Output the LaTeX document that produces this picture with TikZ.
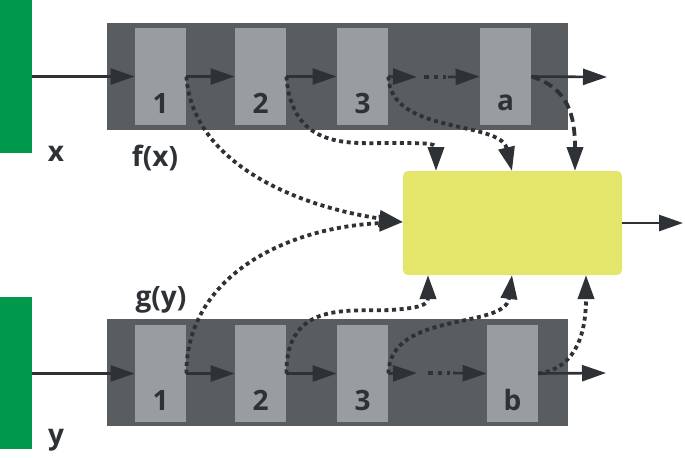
\documentclass[tikz,border=0pt]{standalone}
\usepackage{fontspec}
\setmainfont{Open Sans}
\usetikzlibrary{arrows.meta}
\definecolor{darkbox}{HTML}{5A5D60}
\definecolor{cellgray}{HTML}{9A9D9F}
\definecolor{greenbar}{HTML}{00994C}
\definecolor{yel}{HTML}{E3E66B}
\definecolor{ink}{HTML}{2E3135}
\begin{document}
\begin{tikzpicture}[x=0.5pt,y=-0.5pt,
  tip/.tip={Triangle[length=12pt,width=8pt]},
  boxbg/.style={fill=darkbox,draw=none,minimum width=230.5pt,minimum height=53.5pt,inner sep=0pt},
  cellbox/.style={fill=cellgray,draw=none,minimum width=25.5pt,minimum height=48.5pt,inner sep=0pt},
  barbox/.style={fill=greenbar,draw=none,minimum width=16pt,inner sep=0pt},
  yelbox/.style={fill=yel,draw=none,rounded corners=2.5pt,minimum width=109.5pt,minimum height=52pt,inner sep=0pt},
  lbl/.style={font=\bfseries\fontsize{14}{16}\selectfont,text=ink,inner sep=0pt},
  flow/.style={draw=ink,line width=1.3pt,-tip},
  dots/.style={draw=ink,line width=1.9pt,dash pattern=on 2pt off 1.8pt,-tip},
  dashes/.style={draw=ink,line width=1.9pt,dash pattern=on 4.5pt off 2.5pt,-tip},
  dotrow/.style={draw=ink,line width=2.4pt,dash pattern=on 2.4pt off 2.4pt}
]
\useasboundingbox (0,0) rectangle (685,457);
% green bars
\node[barbox,minimum height=76.5pt] (gx) at (16,76.5) {};
\node[barbox,minimum height=76pt] (gy) at (16,372.5) {};
% dark boxes
\node[boxbg] (fbox) at (337.5,76.5) {};
\node[boxbg] (gbox) at (337.5,372.5) {};
% top cells
\node[cellbox] (f1) at (160.5,76.5) {};
\node[cellbox] (f2) at (260.5,76.5) {};
\node[cellbox] (f3) at (362.5,76.5) {};
\node[cellbox] (fa) at (505.5,76.5) {};
% bottom cells
\node[cellbox] (g1) at (160.5,373.5) {};
\node[cellbox] (g2) at (260.5,373.5) {};
\node[cellbox] (g3) at (362.5,373.5) {};
\node[cellbox] (gb) at (512.5,373.5) {};
% cell labels
\node[lbl] (lf1) at (160.5,103) {1};
\node[lbl] (lf2) at (260.5,103) {2};
\node[lbl] (lf3) at (362.5,103) {3};
\node[lbl] (lfa) at (505.5,103) {a};
\node[lbl] (lg1) at (160.5,400) {1};
\node[lbl] (lg2) at (260.5,400) {2};
\node[lbl] (lg3) at (362.5,400) {3};
\node[lbl] (lgb) at (512.5,400) {b};
% side labels
\node[lbl] (lx) at (56,154) {x};
\node[lbl] (lfx) at (155,158) {f(x)};
\node[lbl] (ly) at (56,440) {y};
\node[lbl] (lgy) at (161,300) {g(y)};
% yellow box
\node[yelbox] (yb) at (512.5,223) {};
% coordinates
\coordinate (fo) at (607,77);
\coordinate (go) at (606,373);
\coordinate (yo) at (683,223);
\coordinate (fd) at (417,77);
\coordinate (fe) at (448,77);
\coordinate (gd) at (417,373);
\coordinate (ge) at (453,373);
\coordinate (yl) at (403,222);
\coordinate (yt1) at (436,171);
\coordinate (yt2) at (512,171);
\coordinate (yt3) at (575,171);
\coordinate (yb1) at (428,275);
\coordinate (yb2) at (512,275);
\coordinate (yb3) at (586,275);
% top row arrows
\draw[flow] (gx.east |- f1.west) -- (f1.west);
\draw[flow] (f1.east) -- (f2.west);
\draw[flow] (f2.east) -- (f3.west);
\draw[flow] (f3.east) -- (fd);
\draw[dotrow] (424,77) -- (446,77);
\draw[flow] (fe) -- (fa.west);
\draw[flow] (fa.east) -- (fo);
% bottom row arrows
\draw[flow] (gy.east |- g1.west) -- (g1.west);
\draw[flow] (g1.east) -- (g2.west);
\draw[flow] (g2.east) -- (g3.west);
\draw[flow] (g3.east) -- (gd);
\draw[dotrow] (428,373) -- (450,373);
\draw[flow] (ge) -- (gb.west);
\draw[flow] (gb.east) -- (go);
% output
\draw[flow] (yb.east |- yo) -- (yo);
% top curves
\draw[dots] (f1.east) .. controls (192,160) and (290,205) .. (yl);
\draw[dots] (f2.east) .. controls (292,150) and (350,143) .. (390,143) .. controls (425,143) and (436,143) .. (yt1);
\draw[dots] (f3.east) .. controls (390,135) and (500,120) .. (yt2);
\draw[dashes] (fa.east) .. controls (568,88) and (575,115) .. (yt3);
% bottom curves
\draw[dots] (g1.east) .. controls (186,280) and (280,228) .. (yl);
\draw[dots] (g2.east) .. controls (286,300) and (350,312) .. (390,310) .. controls (420,308) and (428,305) .. (yb1);
\draw[dots] (g3.east) .. controls (390,310) and (505,330) .. (yb2);
\draw[dots] (gb.east) .. controls (578,368) and (586,330) .. (yb3);
\end{tikzpicture}
\end{document}
